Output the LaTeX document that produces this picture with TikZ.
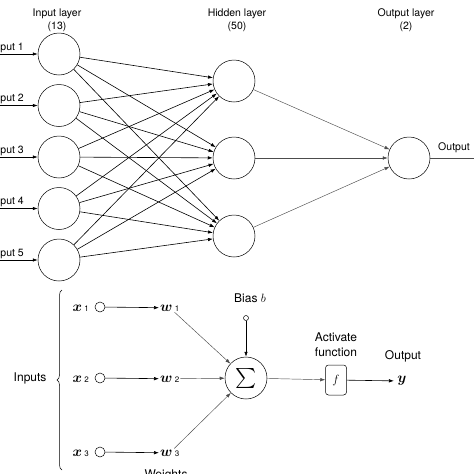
\documentclass[tikz,border=0pt]{standalone}
\usepackage{amsmath,amssymb,bm}
\usepackage{fontspec}
\setmainfont{TeX Gyre Heros}
\usetikzlibrary{arrows.meta,decorations.pathreplacing}

\begin{document}
\begin{tikzpicture}[x=1pt,y=-1pt,
    neuron/.style={circle,draw,line width=0.5pt,minimum size=42pt,inner sep=0pt},
    port/.style={circle,draw,line width=0.5pt,minimum size=10pt,inner sep=0pt},
    link/.style={-{Latex[length=5pt,width=3.5pt]},line width=0.6pt},
    thinlink/.style={-{Latex[length=5pt,width=3.5pt]},line width=0.45pt,gray!60!black},
    lab/.style={font=\fontsize{10.5}{13}\selectfont,align=center},
    biglab/.style={font=\fontsize{12}{15}\selectfont,align=center},
    mathlab/.style={font=\fontsize{13.5}{15}\selectfont}]

    \useasboundingbox (0,0) rectangle (474,474);

    % Layer titles
    \node[lab] (tin) at (57,20) {Input layer\\(13)};
    \node[lab] (thid) at (237,20) {Hidden layer\\(50)};
    \node[lab] (tout) at (406,20) {Output layer\\(2)};

    % Input layer
    \foreach \i/\y in {1/54,2/105.5,3/157,4/208.5,5/260} {
        \node[neuron] (in\i) at (59,\y) {};
        \coordinate (src\i) at (0,\y);
        \node[lab,anchor=base east,inner sep=0pt] (lin\i) at (24,\y-4) {Input \i};
        \draw[link] (src\i) -- (in\i);
    }

    % Hidden layer
    \foreach \j/\y in {1/81,2/158,3/236} {
        \node[neuron] (hid\j) at (234,\y) {};
    }

    % Output layer
    \node[neuron] (out) at (409,158) {};
    \coordinate (outend) at (474,158);
    \node[lab,anchor=base] (lout) at (454,150) {Output};

    \foreach \i in {1,...,5} {
        \foreach \j in {1,2,3} {
            \draw[link] (in\i) -- (hid\j);
        }
    }
    \foreach \j in {1,2,3} {
        \draw[thinlink] (hid\j) -- (out);
    }
    \draw[line width=0.45pt,gray!60!black] (out) -- (outend);

    % Single neuron
    \foreach \k/\y in {1/307,2/378,3/452} {
        \node[mathlab,anchor=base east,inner sep=1pt] (x\k) at (90,\y+4) {$\bm{x}$\,{\footnotesize\k}};
        \node[port] (p\k) at (100,\y) {};
        \node[mathlab,anchor=base west,inner sep=1pt] (w\k) at (159,\y+4) {$\bm{w}$\,{\footnotesize\k}};
        \draw[link] (p\k) -- (w\k);
    }
    \draw[decorate,decoration={brace,amplitude=5pt},line width=0.5pt] (62,470) -- (62,290);
    \node[biglab,anchor=east] (linputs) at (50,378) {Inputs};

    \node[neuron] (sum) at (246,378) {\fontsize{20}{20}\selectfont$\sum$};
    \node[circle,draw,line width=0.5pt,minimum size=5pt,inner sep=0pt] (bias) at (246,318) {};
    \node[biglab,anchor=base] (lbias) at (250,302) {Bias $b$};
    \draw[link] (bias) -- (sum);
    \foreach \k in {1,2,3} {
        \draw[thinlink] (w\k) -- (sum);
    }

    \node[draw,rounded corners=3pt,line width=0.5pt,minimum width=21pt,minimum height=30pt,inner sep=0pt,font=\fontsize{13}{15}\selectfont] (act) at (336,380) {$f$};
    \node[biglab] (lact) at (336,345) {Activate\\function};
    \draw[thinlink] (sum) -- (act);
    \node[biglab,anchor=base] (ly) at (403,359) {Output};
    \node[mathlab] (y) at (402,381) {$\bm{y}$};
    \draw[link] (act) -- (y);

    \node[biglab,anchor=north] (lweights) at (166,466) {Weights};

\end{tikzpicture}
\end{document}
